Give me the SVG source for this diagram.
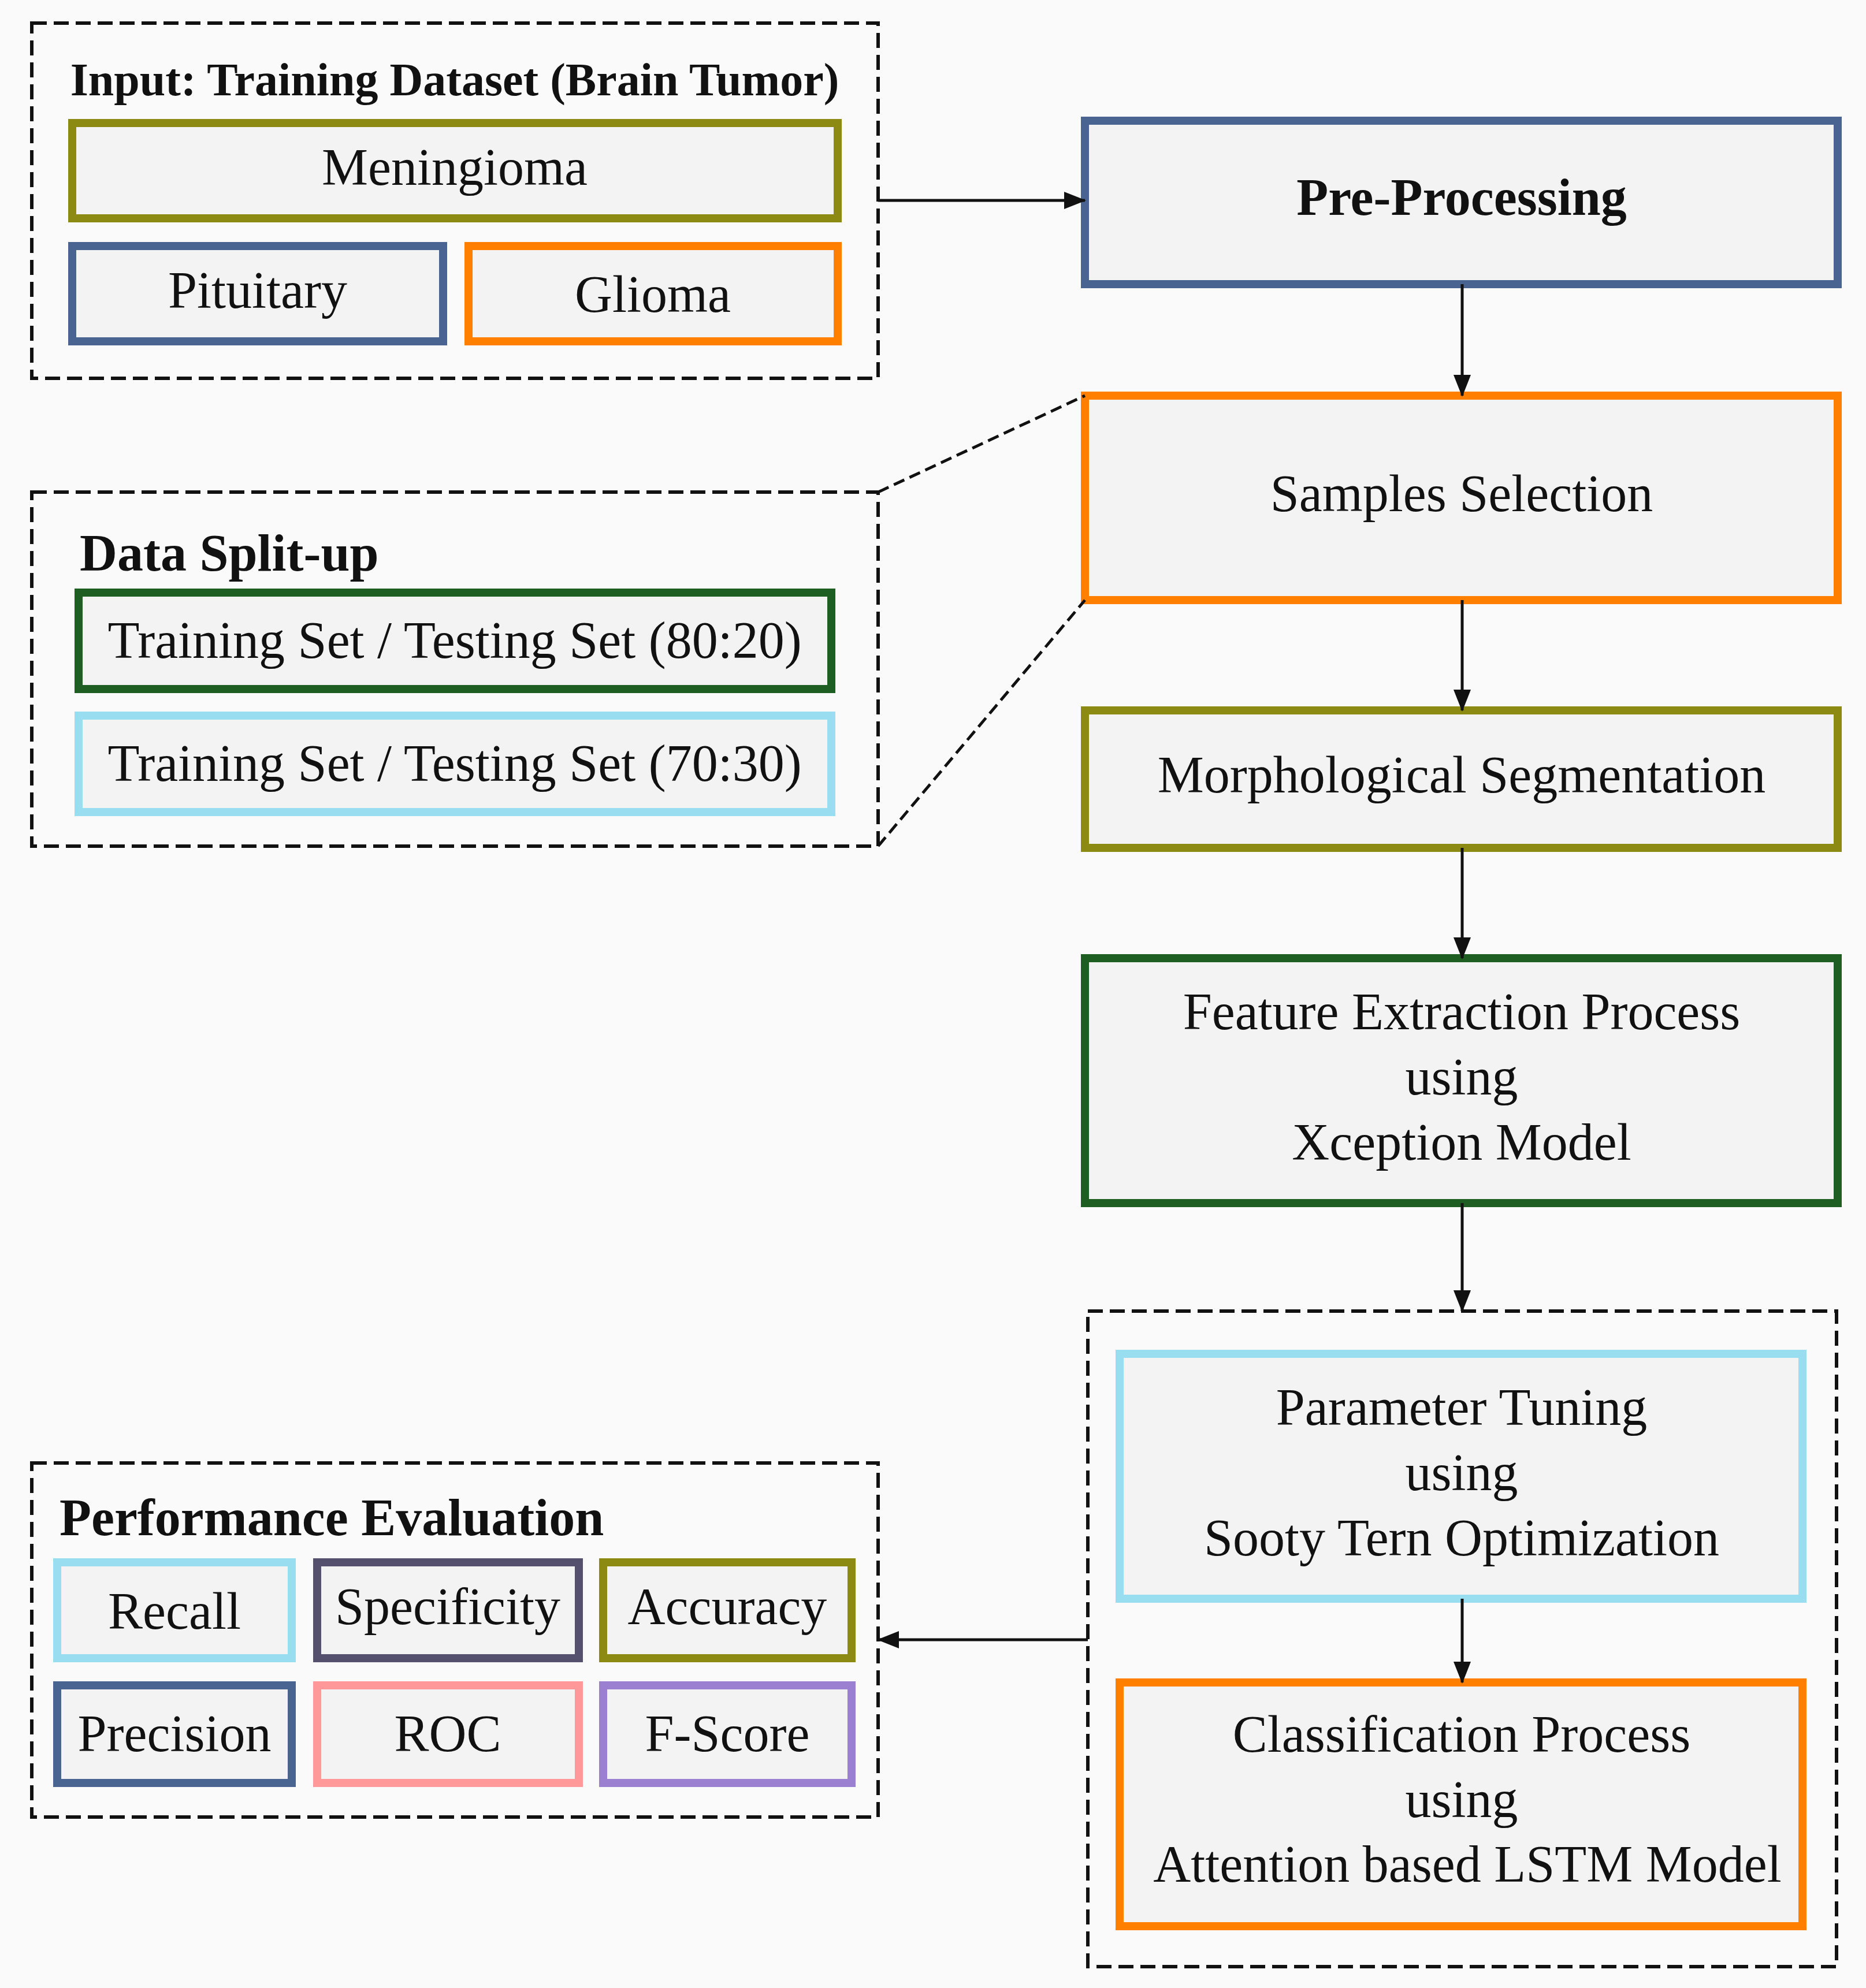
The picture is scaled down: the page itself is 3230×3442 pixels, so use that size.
<svg xmlns="http://www.w3.org/2000/svg" width="3230" height="3442" viewBox="0 0 3230 3442">
<style>
.t{font-family:"Liberation Serif","Times New Roman",serif;font-size:90px;fill:#111;text-anchor:middle}
.b{font-weight:bold}
.h{font-family:"Liberation Serif","Times New Roman",serif;font-size:90px;font-weight:bold;fill:#111}
.d{fill:none;stroke:#111;stroke-width:6;stroke-dasharray:26 12}
.n{fill:#F3F3F3;stroke-width:14}
.c{stroke:#111;stroke-width:5;fill:none}
</style>
<defs>
<marker id="m" markerWidth="38" markerHeight="38" refX="36" refY="19" orient="auto" markerUnits="userSpaceOnUse"><path d="M0,4 L38,19 L0,34z" fill="#111"/></marker></defs>
<rect width="3230" height="3442" fill="#FAFAFA"/>
<g id="input"><rect class="d" x="55" y="40" width="1465" height="615"/>
<text class="h" x="787" y="165" text-anchor="middle" style="font-size:80px">Input: Training Dataset (Brain Tumor)</text></g>
<g id="meningioma"><rect class="n" x="125" y="213" width="1325" height="165" stroke="#8C8A12"/><text class="t" x="787" y="320">Meningioma</text></g>
<g id="pituitary"><rect class="n" x="125" y="426" width="642" height="165" stroke="#4A6491"/><text class="t" x="446" y="533">Pituitary</text></g>
<g id="glioma"><rect class="n" x="811" y="426" width="639" height="165" stroke="#FF8000"/><text class="t" x="1130" y="540">Glioma</text></g>
<g id="preprocessing"><rect class="n" x="1878" y="209" width="1303" height="283" stroke="#4A6491"/><text class="t b" x="2530" y="372">Pre-Processing</text></g>
<g id="samples"><rect class="n" x="1878" y="685" width="1303" height="354" stroke="#FF8000"/><text class="t" x="2530" y="885">Samples Selection</text></g>
<g id="morph"><rect class="n" x="1878" y="1230" width="1303" height="238" stroke="#8C8A12"/><text class="t" x="2530" y="1372">Morphological Segmentation</text></g>
<g id="feature"><rect class="n" x="1878" y="1659" width="1303" height="424" stroke="#1E5E22"/><text class="t" x="2530" y="1782">Feature Extraction Process</text><text class="t" x="2530" y="1895">using</text><text class="t" x="2530" y="2008">Xception Model</text></g>
<g id="classifier"><rect class="d" x="1883" y="2270" width="1296" height="1135"/></g>
<g id="tuning"><rect class="n" x="1938" y="2344" width="1182" height="424" stroke="#99DDF0"/><text class="t" x="2530" y="2467">Parameter Tuning</text><text class="t" x="2530" y="2580">using</text><text class="t" x="2530" y="2693">Sooty Tern Optimization</text></g>
<g id="classification"><rect class="n" x="1938" y="2913" width="1182" height="422" stroke="#FF8000"/><text class="t" x="2530" y="3033">Classification Process</text><text class="t" x="2530" y="3146">using</text><text class="t" x="2540" y="3258">Attention based LSTM Model</text></g>
<g id="split"><rect class="d" x="55" y="852" width="1465" height="613"/><text class="h" x="138" y="988">Data Split-up</text></g>
<g id="s8020"><rect class="n" x="136" y="1026" width="1303" height="167" stroke="#1E5E22"/><text class="t" x="787" y="1139">Training Set / Testing Set (80:20)</text></g>
<g id="s7030"><rect class="n" x="136" y="1239" width="1303" height="167" stroke="#99DDF0"/><text class="t" x="787" y="1352">Training Set / Testing Set (70:30)</text></g>
<g id="perf"><rect class="d" x="55" y="2533" width="1465" height="613"/><text class="h" x="103" y="2658">Performance Evaluation</text></g>
<g id="recall"><rect class="n" x="99" y="2705" width="406" height="166" stroke="#99DDF0"/><text class="t" x="302" y="2820">Recall</text></g>
<g id="specificity"><rect class="n" x="549" y="2705" width="453" height="166" stroke="#55506E"/><text class="t" x="775" y="2812">Specificity</text></g>
<g id="accuracy"><rect class="n" x="1044" y="2705" width="430" height="166" stroke="#8C8A12"/><text class="t" x="1259" y="2812">Accuracy</text></g>
<g id="precision"><rect class="n" x="99" y="2918" width="406" height="169" stroke="#4A6491"/><text class="t" x="302" y="3032">Precision</text></g>
<g id="roc"><rect class="n" x="549" y="2918" width="453" height="169" stroke="#FF9999"/><text class="t" x="775" y="3032">ROC</text></g>
<g id="fscore"><rect class="n" x="1044" y="2918" width="430" height="169" stroke="#9B7FD0"/><text class="t" x="1259" y="3032">F-Score</text></g>
<g id="connectors">
<line class="c" x1="1520" y1="347" x2="1878" y2="347" marker-end="url(#m)"/>
<line class="c" x1="2531" y1="492" x2="2531" y2="685" marker-end="url(#m)"/>
<line class="c" x1="2531" y1="1039" x2="2531" y2="1230" marker-end="url(#m)"/>
<line class="c" x1="2531" y1="1468" x2="2531" y2="1659" marker-end="url(#m)"/>
<line class="c" x1="2531" y1="2083" x2="2531" y2="2270" marker-end="url(#m)"/>
<line class="c" x1="2531" y1="2768" x2="2531" y2="2913" marker-end="url(#m)"/>
<line class="c" x1="1883" y1="2839" x2="1520" y2="2839" marker-end="url(#m)"/>
<line class="c" x1="1520" y1="852" x2="1878" y2="685" stroke-dasharray="20 10"/>
<line class="c" x1="1520" y1="1465" x2="1878" y2="1039" stroke-dasharray="20 10"/>
</g>
</svg>
